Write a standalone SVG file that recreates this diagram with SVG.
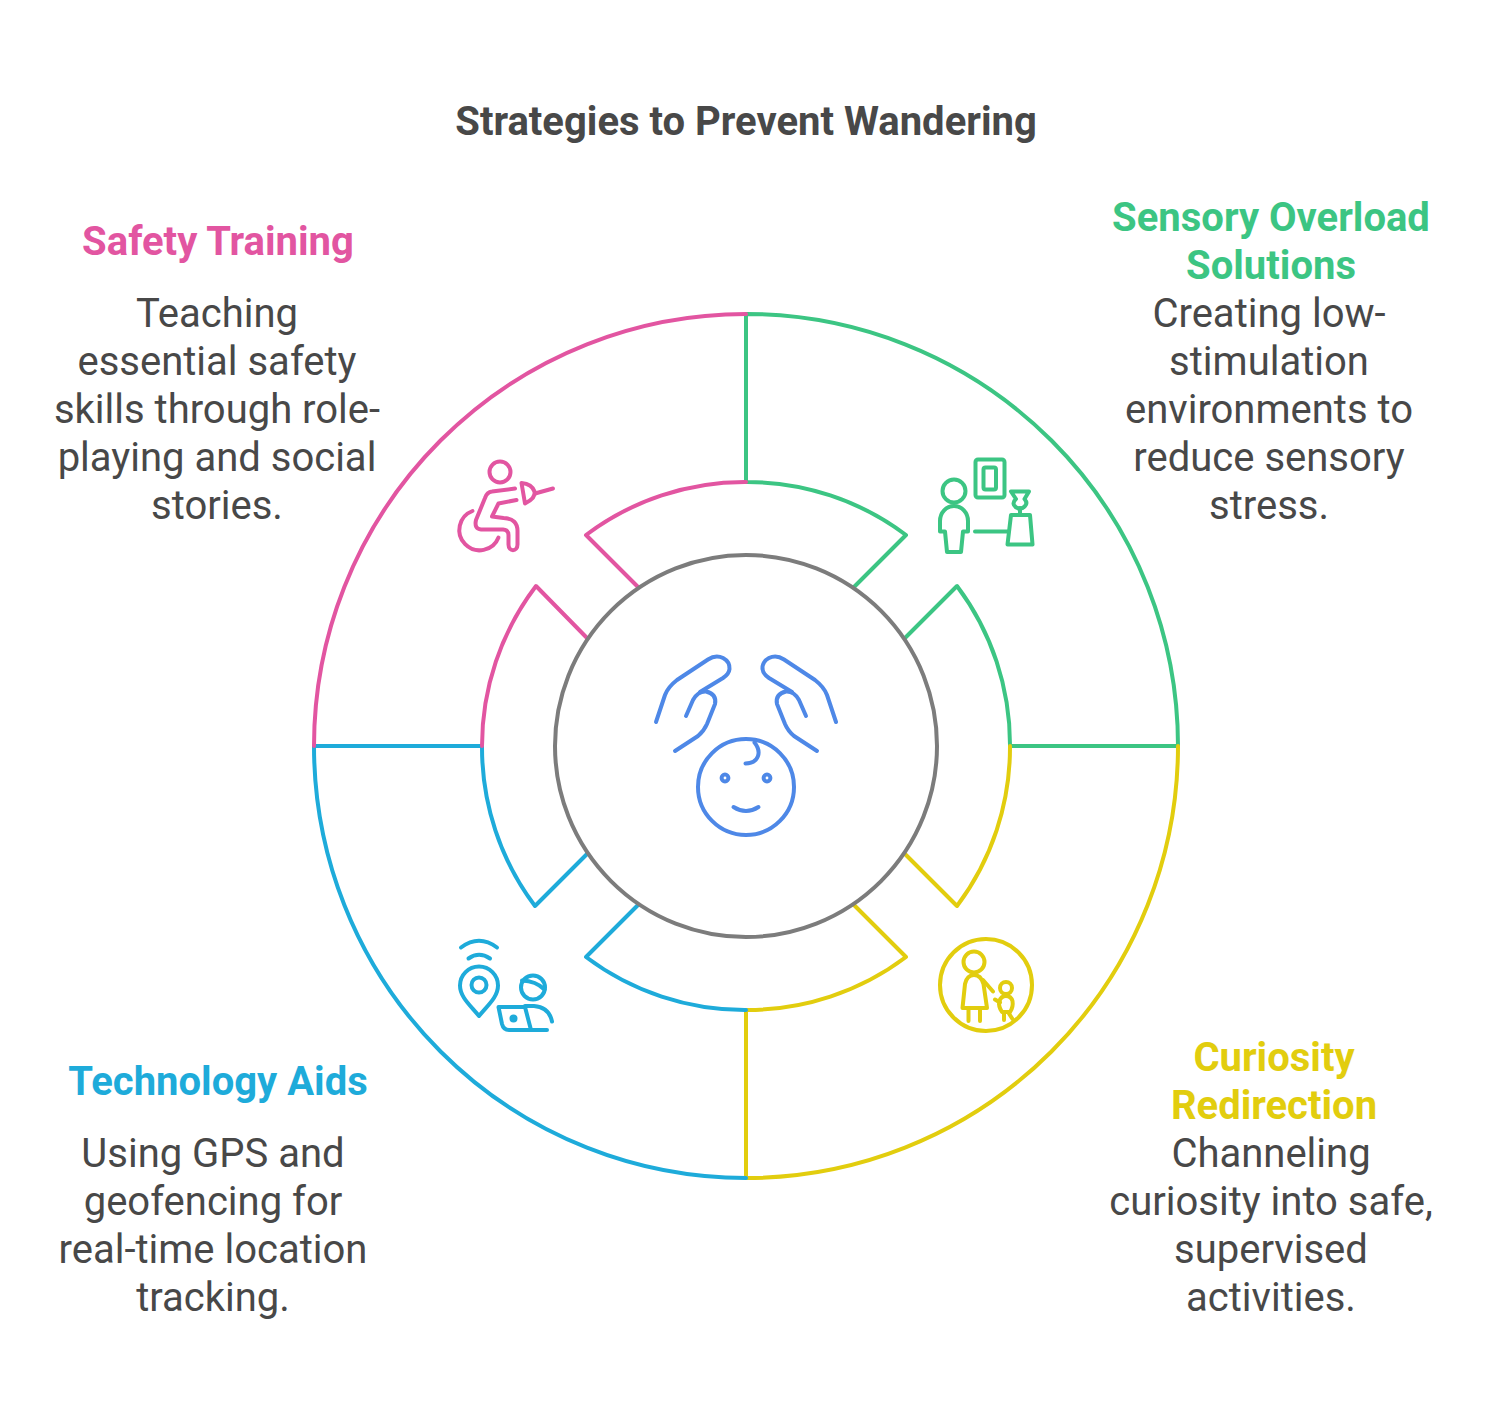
<svg xmlns="http://www.w3.org/2000/svg" width="1492" height="1420" viewBox="0 0 1492 1420">
<style>
text{font-family:Roboto,"Liberation Sans",sans-serif;text-anchor:middle}
.t{font-size:40px;font-weight:700;fill:#484848}
.h{font-size:40px;font-weight:700}
.b{font-size:40px;fill:#484848}
.s{fill:none;stroke-width:4;stroke-linecap:round;stroke-linejoin:round}
.i{fill:none;stroke-width:4;stroke-linecap:round;stroke-linejoin:round}
.pk{stroke:#E255A1}.gr{stroke:#3CC583}.yl{stroke:#E2CD0E}.bl{stroke:#1EABDA}.ib{stroke:#4E88E7}
</style>
<rect width="1492" height="1420" fill="#fff"/>
<text class="t" x="746" y="135">Strategies to Prevent Wandering</text>
<g id="connectors">
<path class="s gr" d="M746 314A432 432 0 0 1 1178 746H1010A264 264 0 0 0 957 586L905 638M746 314V482A264 264 0 0 1 906 535L854 587"/>
<path class="s yl" d="M1178 746A432 432 0 0 1 746 1178V1010A264 264 0 0 0 906 957L854 905M1010 746A264 264 0 0 1 957 906L905 854"/>
<path class="s bl" d="M746 1178A432 432 0 0 1 314 746H482A264 264 0 0 0 535 906L587 854M746 1010A264 264 0 0 1 586 957L638 905"/>
<path class="s pk" d="M314 746A432 432 0 0 1 746 314M482 746A264 264 0 0 1 536 586L587 638M746 482A264 264 0 0 0 586 535L638 587"/>
</g>
<g id="center">
<circle cx="746" cy="746" r="191" fill="none" stroke="#7C7C7C" stroke-width="4"/>
<g class="i ib">
<circle cx="746" cy="787" r="48"/>
<circle cx="725" cy="778" r="3.4"/><circle cx="767" cy="778" r="3.4"/>
<path d="M733.5 807Q746 815 758.5 807"/>
<path d="M754.5 742.5C762 752 759 763 745.5 763.500"/>
<g id="hand"><path d="M656 722L665 695Q668 687 677 680L708 659.5C719 652 730 660 729.5 669Q729 674 723 678L700 692"/><path d="M686 716L693 700Q698 691 706 691.500Q717 694 715 704L707 724Q704 731 698 736L675 751"/></g>
<use href="#hand" transform="matrix(-1 0 0 1 1492 0)"/>
</g>
</g>
<g id="sensory">
<text class="h" fill="#3CC583" x="1271" y="231">Sensory Overload</text>
<text class="h" fill="#3CC583" x="1271" y="279">Solutions</text>
<text class="b" x="1269" y="327">Creating low-</text>
<text class="b" x="1269" y="375">stimulation</text>
<text class="b" x="1269" y="423">environments to</text>
<text class="b" x="1269" y="471">reduce sensory</text>
<text class="b" x="1269" y="519">stress.</text>
<g class="i gr">
<rect x="975.5" y="459.5" width="29" height="38" rx="2.5"/>
<rect x="983.5" y="467.5" width="12.5" height="22" rx="2"/>
<circle cx="954" cy="491" r="11.5"/>
<path d="M947 552L945 531.5H940V521A14 15 0 0 1 968 521V531.5H963L961 552Z"/>
<path d="M975 531.5H1007.500M1020 508V515"/>
<path d="M1011 515H1030L1032.500 544.500H1007.500Z"/>
<path d="M1011 491.500H1029L1024.500 499Q1028 503 1025 506Q1023 508.500 1020 508.500Q1016 508.500 1014 505Q1012.500 502 1016 499Z"/>
</g>
</g>
<g id="safety">
<text class="h" fill="#E255A1" x="218" y="255">Safety Training</text>
<text class="b" x="217" y="327">Teaching</text>
<text class="b" x="217" y="375">essential safety</text>
<text class="b" x="217" y="423">skills through role-</text>
<text class="b" x="217" y="471">playing and social</text>
<text class="b" x="217" y="519">stories.</text>
<g class="i pk">
<circle cx="500" cy="472" r="10.500"/>
<path d="M472.500 511A20.300 20.300 0 1 0 498.500 537.500"/>
<path d="M515 488.500L492 491.500Q487 492 485 498L476 520Q474 529 481 529.500H503Q508.500 530 508.500 535V544.500C508.500 552 517.500 552 517.500 544.500V532Q518 518.500 503.500 518L492 516.500L498.500 503.500L516.500 500"/>
<path d="M521.500 483L525 503.500Q536 498 534.500 491.500Q532 484 521.500 483Z"/>
<path d="M535 493.500L553 488.500"/>
</g>
</g>
<g id="technology">
<text class="h" fill="#1EABDA" x="218" y="1095">Technology Aids</text>
<text class="b" x="213" y="1167">Using GPS and</text>
<text class="b" x="213" y="1215">geofencing for</text>
<text class="b" x="213" y="1263">real-time location</text>
<text class="b" x="213" y="1311">tracking.</text>
<g class="i bl">
<path d="M461 947.500Q479 934 497 947.500M468.500 958.500Q479 951 490 958.500"/>
<path d="M479 1016C470 1005 460 997 460 985.500A19 19 0 0 1 498 985.500C498 997 488 1005 479 1016Z"/>
<circle cx="479" cy="985" r="7.500"/>
<circle cx="533" cy="987.500" r="12"/>
<path d="M522 980.500Q536 981 544.500 989.500"/>
<path d="M525 1007H498.500L502 1024Q503.500 1030 509 1030H547M525 1007L531 1030"/>
<path d="M525 1006H534Q549 1007 552 1021.500"/>
<circle cx="513.500" cy="1018.500" r="2"/>
</g>
</g>
<g id="curiosity">
<text class="h" fill="#E2CD0E" x="1274" y="1071">Curiosity</text>
<text class="h" fill="#E2CD0E" x="1274" y="1119">Redirection</text>
<text class="b" x="1271" y="1167">Channeling</text>
<text class="b" x="1271" y="1215">curiosity into safe,</text>
<text class="b" x="1271" y="1263">supervised</text>
<text class="b" x="1271" y="1311">activities.</text>
<g class="i yl">
<circle cx="986" cy="985" r="46"/>
<circle cx="974" cy="962" r="10.500"/>
<path d="M962.500 1008L965 984Q967 975 974 975Q981 975 983.500 984L987 1008Z"/>
<path d="M983 980L993 991.500M968.500 1008V1021M980 1008V1021"/>
<circle cx="1006" cy="988" r="6"/>
<path d="M1002 1012Q998 1006 999.500 1001Q1001 996 1006 996Q1011 996 1012.500 1001Q1013.500 1007 1010 1012Z"/>
<path d="M995 999.500L1000 1002.500M1004 1012V1020M1008 1012L1012.500 1019"/>
</g>
</g>
</svg>
